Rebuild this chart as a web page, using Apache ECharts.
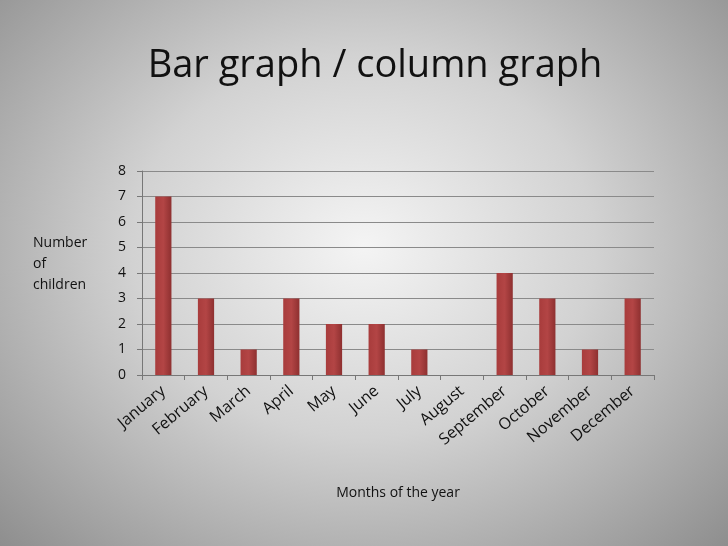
<!DOCTYPE html>
<html>
<head>
<meta charset="utf-8">
<script src="https://cdn.jsdelivr.net/npm/echarts@6/dist/echarts.min.js"></script>
<style>
  html, body { margin: 0; padding: 0; }
  body {
    width: 728px; height: 546px;
    background: radial-gradient(ellipse at 50% 45%, #f4f4f4 0%, #d2d2d2 45%, #8e8e8e 100%);
  }
  #chart { width: 728px; height: 546px; }
</style>
</head>
<body>
<div id="chart"></div>
<script>
const months = ['January', 'February', 'March', 'April', 'May', 'June', 'July',
  'August', 'September', 'October', 'November', 'December'];
const children = [7, 3, 1, 3, 2, 2, 1, 0, 4, 3, 1, 3];
const yTicks = [0, 1, 2, 3, 4, 5, 6, 7, 8];

const font = 'Open Sans, Lato, sans-serif';
const chart = echarts.init(document.getElementById('chart'));

chart.setOption({
  backgroundColor: 'transparent',
  title: {
    text: 'Bar graph / column graph',
    left: 370, top: 42, textAlign: 'center',
    textStyle: { fontFamily: font, fontSize: 38, fontWeight: 'normal', color: '#111' }
  },
  grid: { left: 142, right: 74, top: 171, bottom: 171, containLabel: false },
  graphic: [
    {
      type: 'text', left: 33, top: 233,
      style: { text: 'Number\nof\nchildren', fontFamily: font, fontSize: 14, lineHeight: 21, fill: '#111' }
    }
  ],
  xAxis: {
    type: 'category',
    data: months,
    name: 'Months of the year',
    nameLocation: 'middle',
    nameGap: 111,
    nameTextStyle: { fontFamily: font, fontSize: 14, color: '#111' },
    axisLine: { lineStyle: { color: '#777' } },
    axisTick: { show: true, length: 5, lineStyle: { color: '#777' } },
    axisLabel: { rotate: 40, interval: 0, fontFamily: font, fontSize: 16, color: '#111', margin: 14 }
  },
  yAxis: {
    type: 'value',
    min: yTicks[0], max: yTicks[yTicks.length - 1], interval: 1,
    axisLine: { show: true, lineStyle: { color: '#777' } },
    axisTick: { show: true, length: 5, lineStyle: { color: '#777' } },
    splitLine: { lineStyle: { color: '#8a8a8a' } },
    axisLabel: { fontFamily: font, fontSize: 14, color: '#111', margin: 16 }
  },
  series: [{
    type: 'bar',
    data: children,
    barWidth: '38%',
    itemStyle: {
      color: new echarts.graphic.LinearGradient(0, 0, 1, 0, [
        { offset: 0, color: '#a83c3c' },
        { offset: 0.5, color: '#b34545' },
        { offset: 1, color: '#8e3030' }
      ])
    }
  }]
});
</script>
</body>
</html>
